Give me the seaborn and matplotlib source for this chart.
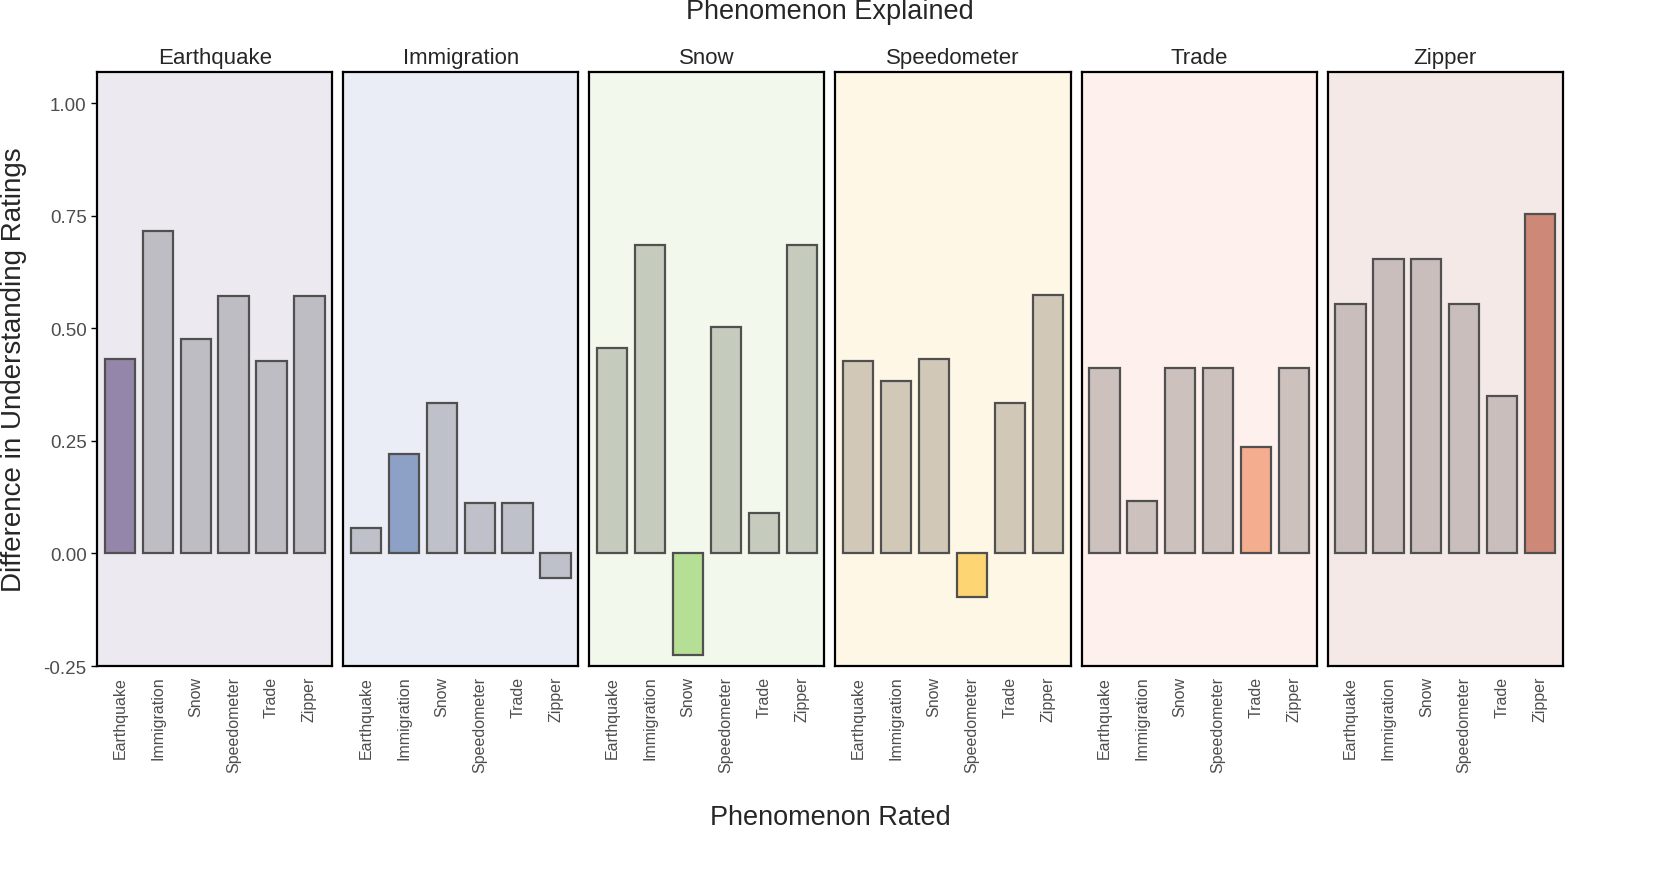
import numpy as np
import pandas as pd
import matplotlib
matplotlib.use("Agg")
import matplotlib.pyplot as plt
import seaborn as sns

# --- data
explained = ["Earthquake", "Immigration", "Snow", "Speedometer", "Trade", "Zipper"]
rated = ["Earthquake", "Immigration", "Snow", "Speedometer", "Trade", "Zipper"]

diff_earthquake = [0.431, 0.716, 0.476, 0.572, 0.428, 0.572]
diff_immigration = [0.056, 0.222, 0.335, 0.111, 0.111, -0.055]
diff_snow = [0.456, 0.685, -0.226, 0.502, 0.090, 0.685]
diff_speedometer = [0.428, 0.383, 0.432, -0.097, 0.335, 0.573]
diff_trade = [0.412, 0.116, 0.412, 0.412, 0.236, 0.412]
diff_zipper = [0.554, 0.654, 0.654, 0.554, 0.350, 0.754]

diffs = [diff_earthquake, diff_immigration, diff_snow,
         diff_speedometer, diff_trade, diff_zipper]

df = pd.DataFrame({
    "explained": np.repeat(explained, len(rated)),
    "rated": rated * len(explained),
    "diff": np.concatenate(diffs),
})

# --- colours
panel_bg = ["#EDE9F0", "#EAEDF5", "#F2F8EC", "#FFF7E6", "#FEF0EC", "#F5E9E7"]
highlight = ["#9486AA", "#8DA0C6", "#B5DF95", "#FDD673", "#F5AD90", "#CE8878"]
gray_fill = ["#BFBDC4", "#BEC1C9", "#C5CCBE", "#D1C8B7", "#CDC1BE", "#C9BEBC"]
edge_col = "#505050"

sns.set_style("white")
plt.rcParams["font.family"] = ["Liberation Sans", "DejaVu Sans"]

fig, axes = plt.subplots(1, 6, figsize=(16.75, 8.87), dpi=100, sharey=True)
fig.subplots_adjust(left=0.058, right=0.933, top=0.918, bottom=0.248, wspace=0.047)

for i, (ax, panel) in enumerate(zip(axes, explained)):
    sub = df[df["explained"] == panel]
    pal = {r: (highlight[i] if r == panel else gray_fill[i]) for r in rated}
    sns.barplot(data=sub, x="rated", y="diff", hue="rated", order=rated,
                hue_order=rated, palette=pal, saturation=1, legend=False,
                width=0.8, edgecolor=edge_col, linewidth=1.6, ax=ax)
    ax.set_facecolor(panel_bg[i])
    ax.set_xlim(-0.6, 5.6)
    ax.set_ylim(-0.25, 1.07)
    ax.set_title(panel, fontsize=16, pad=6)
    ax.set_xlabel("")
    ax.set_ylabel("")
    for s in ax.spines.values():
        s.set_visible(True)
        s.set_color("black")
        s.set_linewidth(1.6)
    ax.tick_params(axis="x", rotation=90, labelsize=11.5, colors="#4D4D4D",
                   length=0, pad=7)
    ax.tick_params(axis="y", labelsize=13.5, colors="#4D4D4D", length=4,
                   width=1, left=(i == 0))
    ax.grid(False)

axes[0].set_yticks([-0.25, 0.0, 0.25, 0.5, 0.75, 1.0])
axes[0].set_yticklabels(["-0.25", "0.00", "0.25", "0.50", "0.75", "1.00"])
axes[0].tick_params(axis="y", color="black")

fig.text(0.4955, 0.986, "Phenomenon Explained", ha="center", va="center", fontsize=19.5)
fig.text(0.4955, 0.078, "Phenomenon Rated", ha="center", va="center", fontsize=19.5)
fig.text(0.0085, 0.583, "Difference in Understanding Ratings", ha="center",
         va="center", rotation=90, fontsize=20)

fig.savefig("out.png", dpi=100)
